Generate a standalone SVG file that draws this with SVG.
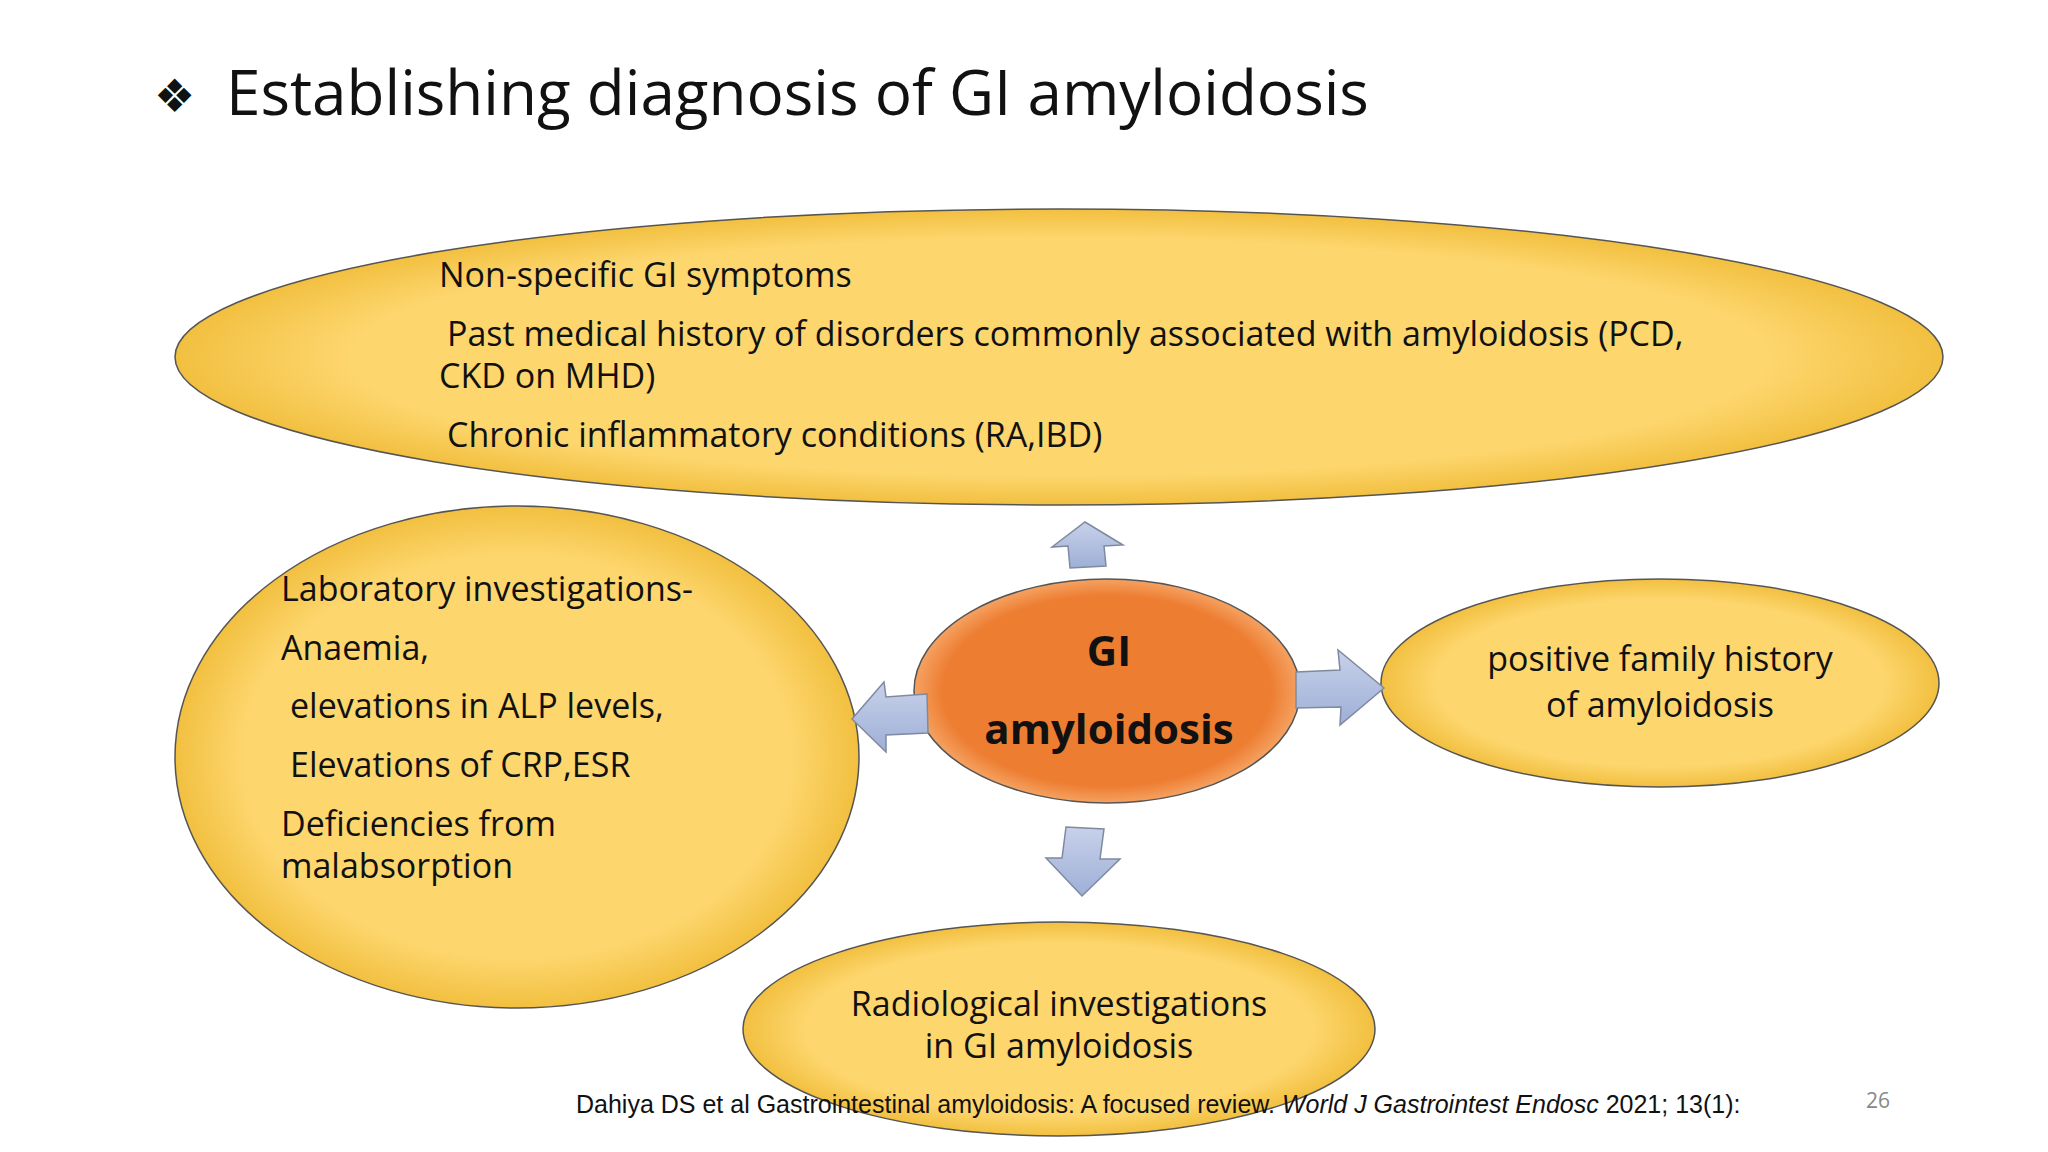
<svg xmlns="http://www.w3.org/2000/svg" width="2048" height="1152" viewBox="0 0 2048 1152">
<style>
.t{font-family:"Open Sans","Noto Sans","Liberation Sans",sans-serif;fill:#111}
.b{font-size:34px}
.e{fill:url(#yg);stroke:#555;stroke-width:1.5}
.ar{fill:url(#bg);stroke:#7f8aa0;stroke-width:1.5}
</style>
<defs>
<radialGradient id="yg" cx="50%" cy="50%" r="50%"><stop offset="0.8" stop-color="#FDD66E"/><stop offset="1" stop-color="#F2C040"/></radialGradient>
<radialGradient id="og" cx="50%" cy="50%" r="50%"><stop offset="0.85" stop-color="#ED7D31"/><stop offset="1" stop-color="#F5A262"/></radialGradient>
<linearGradient id="bg" x1="0" y1="0" x2="0" y2="1"><stop offset="0" stop-color="#C7D1EA"/><stop offset="1" stop-color="#9EAFD6"/></linearGradient>
</defs>
<rect width="2048" height="1152" fill="#fff"/>
<text x="154" y="112" font-family="DejaVu Sans,sans-serif" font-size="46" fill="#111">❖</text>
<text class="t" x="226" y="115" font-size="62">Establishing diagnosis of GI amyloidosis</text>
<g id="top"><ellipse class="e" cx="1059" cy="357" rx="884" ry="148"/>
<text class="t b" x="439" y="287">Non-specific GI symptoms</text>
<text class="t b" x="447" y="346">Past medical history of disorders commonly associated with amyloidosis (PCD,</text>
<text class="t b" x="439" y="388">CKD on MHD)</text>
<text class="t b" x="447" y="447">Chronic inflammatory conditions (RA,IBD)</text></g>
<g id="left"><ellipse class="e" cx="517" cy="757" rx="342" ry="251"/>
<text class="t b" x="281" y="601">Laboratory investigations-</text>
<text class="t b" x="281" y="660">Anaemia,</text>
<text class="t b" x="290" y="718">elevations in ALP levels,</text>
<text class="t b" x="290" y="777">Elevations of CRP,ESR</text>
<text class="t b" x="281" y="836">Deficiencies from</text>
<text class="t b" x="281" y="878">malabsorption</text></g>
<g id="right"><ellipse class="e" cx="1660" cy="683" rx="279" ry="104"/>
<text class="t b" x="1660" y="671" text-anchor="middle" font-size="36">positive family history</text>
<text class="t b" x="1660" y="717" text-anchor="middle" font-size="36">of amyloidosis</text></g>
<g id="bottom"><ellipse class="e" cx="1059" cy="1029" rx="316" ry="107"/>
<text class="t b" x="1059" y="1016" text-anchor="middle">Radiological investigations</text>
<text class="t b" x="1059" y="1058" text-anchor="middle">in GI amyloidosis</text></g>
<g id="center"><ellipse cx="1107" cy="691" rx="193" ry="112" fill="url(#og)" stroke="#555" stroke-width="1.5"/>
<text class="t" x="1109" y="666" text-anchor="middle" font-size="42" font-weight="bold">GI</text>
<text class="t" x="1109" y="744" text-anchor="middle" font-size="42" font-weight="bold">amyloidosis</text></g>
<g id="connectors">
<path class="ar" d="M1070,568 L1068,546 L1052,547 L1085,522 L1123,545 L1104,546 L1106,566 Z"/>
<path class="ar" d="M1296,672 L1340,670 L1338,650 L1384,688 L1340,725 L1341,707 L1296,708 Z"/>
<path class="ar" d="M927,694 L886,697 L884,682 L852,719 L886,752 L886,735 L928,733 Z"/>
<path class="ar" d="M1066,827 L1062,858 L1046,858 L1082,896 L1120,859 L1100,859 L1104,829 Z"/>
</g>
<text x="576" y="1113" font-family="Liberation Sans,Arial,sans-serif" font-size="25" fill="#111">Dahiya DS et al  Gastrointestinal amyloidosis: A focused review. <tspan font-style="italic">World J Gastrointest Endosc</tspan> 2021; 13(1):</text>
<text x="1866" y="1108" font-family="Open Sans,sans-serif" font-size="21" fill="#888">26</text>
</svg>
